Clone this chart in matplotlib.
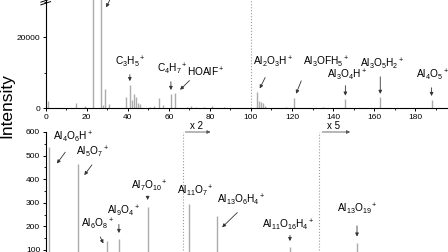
import numpy as np
import matplotlib
matplotlib.use('Agg')
import matplotlib.pyplot as plt

plt.rcParams['font.family'] = ['Liberation Sans', 'DejaVu Sans']
plt.rcParams['mathtext.default'] = 'regular'

# panel superior: m/z 0-196
mz_bajo = [1, 15, 19, 23, 27, 28, 29, 31, 39, 41, 42, 43, 44, 45, 46, 51, 53, 55, 57,
           61, 63, 69, 71, 73, 77, 81, 87, 103, 104, 105, 106, 107, 117, 121, 135, 146, 163, 188]
int_bajo = [2000, 1400, 550, 40000, 40000, 850, 5300, 1000, 3100, 6600, 2200, 3950, 3200, 1500, 1200,
            400, 600, 2800, 950, 4000, 4100, 350, 450, 300, 350, 500, 300, 4600, 2000, 1800, 1400, 500,
            300, 2900, 350, 2500, 3000, 2400]

# panel inferior: cúmulos Al-O
mz_alto = [205, 247, 290, 307, 349, 409, 451, 557, 655]
int_alto = [535, 463, 138, 145, 283, 293, 243, 112, 130]

# etiquetas: (texto, x texto, y texto, x desde, y desde, x punta, y punta)
etiq_bajo = [
    (r'C$_3$H$_5$$^+$', 41, 13000, 41, 10200, 41, 6800),
    (r'C$_4$H$_7$$^+$', 61.5, 10800, 61, 8200, 61, 4300),
    (r'HOAlF$^+$', 78, 10200, 71, 8300, 64.5, 4600),
    (r'Al$_2$O$_3$H$^+$', 111, 13000, 107.5, 9300, 103.7, 4800),
    (r'Al$_3$OFH$_5$$^+$', 136.5, 13000, 125, 8400, 121.5, 3300),
    (r'Al$_3$O$_4$H$^+$', 147, 9300, 146, 7100, 146, 2700),
    (r'Al$_3$O$_5$H$_2$$^+$', 164, 12400, 163, 9600, 163, 3200),
    (r'Al$_4$O$_5$$^+$', 188.5, 9300, 188, 6500, 188, 2600),
]
etiq_alto = [
    (r'Al$_4$O$_6$H$^+$', 240, 577, 231, 524, 214, 457),
    (r'Al$_5$O$_7$$^+$', 269, 514, 270, 470, 254, 408),
    (r'Al$_6$O$_8$$^+$', 276, 210, 278, 166, 286, 117),
    (r'Al$_9$O$_4$$^+$', 314, 262, 307, 220, 307, 160),
    (r'Al$_7$O$_{10}$$^+$', 352, 371, 349, 340, 349, 300),
    (r'Al$_{11}$O$_7$$^+$', 419, 347, 0, 0, 0, 0),
    (r'Al$_{13}$O$_6$H$_4$$^+$', 486, 312, 483, 267, 455, 188),
    (r'Al$_{11}$O$_{16}$H$_4$$^+$', 554, 206, 557, 174, 557, 126),
    (r'Al$_{13}$O$_{19}$$^+$', 655, 270, 655, 214, 655, 145),
]

gris = '#acacac'
fs = 7.3

fig = plt.figure(figsize=(4.48, 2.52), dpi=100)
ax1 = fig.add_axes([0.102, 0.5714, 0.898, 0.4286])
ax2 = fig.add_axes([0.102, -0.0857, 0.898, 0.5619])

for ax in (ax1, ax2):
    ax.spines['top'].set_visible(False)
    ax.spines['right'].set_visible(False)
    ax.tick_params(labelsize=6, length=2.5, width=0.7, pad=1.5)
    ax.tick_params(which='minor', length=1.5, width=0.6)

ax1.vlines(mz_bajo, 0, int_bajo, color=gris, lw=1.0)
ax1.set_xlim(0, 196)
ax1.set_ylim(0, 30500)
ax1.set_xticks(np.arange(0, 181, 20))
ax1.set_xticks(np.arange(10, 196, 20), minor=True)
ax1.set_yticks([0, 20000])
ax1.set_yticks([10000, 30000], minor=True)
ax1.axvline(100, color='#999999', ls=':', lw=0.8)

# marca de corte del eje
for dy in (0.0, 0.025):
    ax1.plot([-0.012, 0.012], [0.955 + dy, 0.985 + dy], transform=ax1.transAxes,
             color='k', lw=0.7, clip_on=False)

ax1.annotate('', xy=(28.9, 27700), xytext=(32, 31500),
             arrowprops=dict(arrowstyle='-|>', color='#333333', lw=0.6, mutation_scale=5),
             annotation_clip=False)

for t, xt, yt, x0, y0, x1, y1 in etiq_bajo:
    ax1.text(xt, yt, t, ha='center', va='center', fontsize=fs)
    ax1.annotate('', xy=(x1, y1), xytext=(x0, y0),
                 arrowprops=dict(arrowstyle='-|>', color='#333333', lw=0.6, mutation_scale=5))

ax2.vlines(mz_alto, 0, int_alto, color=gris, lw=1.0)
ax2.set_xlim(200, 788)
ax2.set_ylim(0, 600)
ax2.set_yticks(np.arange(100, 601, 100))
ax2.set_yticks(np.arange(50, 600, 100), minor=True)
ax2.tick_params(labelbottom=False)

for xv, lab, xf in [(400, 'x 2', 445), (600, 'x 5', 649)]:
    ax2.plot([xv, xv], [0, 600], color='#999999', ls=':', lw=0.8, clip_on=False)
    ax2.annotate('', xy=(xf, 600), xytext=(xv, 600),
                 arrowprops=dict(arrowstyle='-|>', color='#555555', lw=0.6, mutation_scale=5),
                 annotation_clip=False)
    ax2.text(xv + 20, 604, lab, ha='center', va='bottom', fontsize=7)

for t, xt, yt, x0, y0, x1, y1 in etiq_alto:
    ax2.text(xt, yt, t, ha='center', va='center', fontsize=fs)
    if x0:
        ax2.annotate('', xy=(x1, y1), xytext=(x0, y0),
                     arrowprops=dict(arrowstyle='-|>', color='#333333', lw=0.6, mutation_scale=5))

fig.text(0.016, 0.583, 'Intensity', rotation=90, ha='center', va='center', fontsize=12.5)

fig.savefig('out.png', dpi=100)
